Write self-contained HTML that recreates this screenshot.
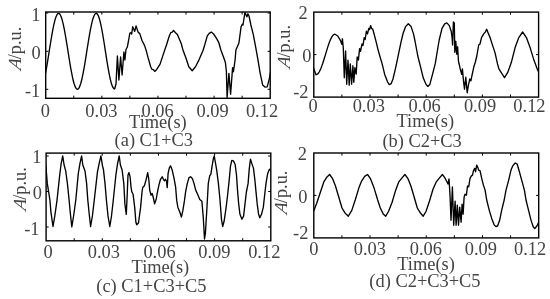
<!DOCTYPE html>
<html><head><meta charset="utf-8"><title>Waveforms</title>
<style>html,body{margin:0;padding:0;background:#fff;width:550px;height:299px;overflow:hidden}svg{display:block}</style>
</head><body>
<svg width="550" height="299" viewBox="0 0 550 299">
<defs><clipPath id="clipa"><rect x="45.7" y="12.0" width="224.50" height="86.30"/></clipPath><clipPath id="clipb"><rect x="313.8" y="12.1" width="224.80" height="85.00"/></clipPath><clipPath id="clipc"><rect x="46.1" y="153.1" width="224.70" height="87.70"/></clipPath><clipPath id="clipd"><rect x="313.8" y="153.0" width="224.90" height="84.90"/></clipPath></defs>
<rect width="550" height="299" fill="#fff"/>
<path d="M39.80,89.30 L40.62,88.95 L41.43,87.89 L42.25,86.15 L43.07,83.77 L43.89,80.78 L44.70,77.24 L45.52,73.21 L46.34,68.78 L47.16,64.03 L47.97,59.03 L48.79,53.89 L49.61,48.71 L50.43,43.57 L51.24,38.57 L52.06,33.82 L52.88,29.39 L53.70,25.36 L54.51,21.82 L55.33,18.83 L56.15,16.45 L56.97,14.71 L57.78,13.65 L58.60,13.30 L59.42,13.65 L60.23,14.71 L61.05,16.45 L61.87,18.83 L62.69,21.82 L63.50,25.36 L64.32,29.39 L65.14,33.82 L65.96,38.57 L66.77,43.57 L67.59,48.71 L68.41,53.89 L69.23,59.03 L70.04,64.03 L70.86,68.78 L71.68,73.21 L72.50,77.24 L73.31,80.78 L74.13,83.77 L74.95,86.15 L75.77,87.89 L76.58,88.95 L77.40,89.30 L78.22,88.95 L79.03,87.89 L79.85,86.15 L80.67,83.77 L81.49,80.78 L82.30,77.24 L83.12,73.21 L83.94,68.78 L84.76,64.03 L85.57,59.03 L86.39,53.89 L87.21,48.71 L88.03,43.57 L88.84,38.57 L89.66,33.82 L90.48,29.39 L91.30,25.36 L92.11,21.82 L92.93,18.83 L93.75,16.45 L94.57,14.71 L95.38,13.65 L96.20,13.30 L97.04,13.69 L97.87,14.83 L98.71,16.72 L99.55,19.31 L100.38,22.54 L101.22,26.36 L102.05,30.69 L102.89,35.43 L103.73,40.49 L104.56,45.76 L105.40,51.15 L106.24,56.54 L107.07,61.81 L107.91,66.87 L108.75,71.61 L109.58,75.94 L110.42,79.76 L111.25,82.99 L112.09,85.58 L112.93,87.47 L113.76,88.61 L114.60,89.00 L116.00,84.00 L117.40,56.00 L118.90,80.00 L120.60,57.00 L122.10,75.00 L123.90,52.00 L124.90,60.00 L126.00,49.50 L127.30,47.00 L128.50,41.00 L129.80,33.40 L130.70,32.70 L131.70,34.00 L132.70,26.70 L133.70,29.00 L134.70,31.40 L136.10,26.00 L137.20,29.40 L138.40,32.70 L139.70,33.40 L142.10,40.70 L144.50,45.40 L146.10,50.10 L148.00,57.40 L150.70,66.80 L152.00,69.40 L153.40,69.70 L154.70,71.40 L156.70,69.40 L160.10,64.10 L162.70,56.10 L165.40,48.00 L166.50,45.00 L169.10,36.50 L170.70,32.70 L172.30,32.10 L173.50,30.40 L175.50,32.70 L177.40,34.60 L179.30,39.10 L181.20,43.50 L182.80,49.40 L186.20,58.70 L188.80,66.80 L192.20,70.80 L195.50,66.80 L198.90,60.10 L202.90,50.70 L204.70,45.00 L207.30,35.90 L209.20,33.40 L211.30,32.10 L213.60,34.00 L216.20,37.80 L218.70,42.30 L220.90,50.00 L223.40,56.70 L225.40,62.50 L226.40,71.70 L226.70,83.40 L227.10,97.50 L227.90,86.80 L228.90,73.40 L229.70,83.40 L230.60,94.30 L231.40,83.40 L232.60,67.60 L233.40,71.70 L235.10,60.00 L235.90,50.00 L238.90,43.10 L241.10,26.60 L242.30,24.30 L243.00,25.00 L243.90,19.00 L244.90,12.50 L246.90,16.80 L247.90,13.80 L249.00,16.00 L250.90,25.00 L253.20,34.10 L255.50,46.10 L257.70,58.40 L260.20,73.40 L262.70,85.10 L264.90,87.10 L267.20,86.80 L269.40,78.40 L270.60,71.70 L272.00,65.00" clip-path="url(#clipa)" fill="none" stroke="#000" stroke-width="1.35" stroke-linejoin="round"/>
<path d="M73.76,98.3 v-2.6 M73.76,12.0 v2.6 M101.83,98.3 v-2.6 M101.83,12.0 v2.6 M129.89,98.3 v-2.6 M129.89,12.0 v2.6 M157.95,98.3 v-2.6 M157.95,12.0 v2.6 M186.01,98.3 v-2.6 M186.01,12.0 v2.6 M214.07,98.3 v-2.6 M214.07,12.0 v2.6 M242.14,98.3 v-2.6 M242.14,12.0 v2.6 M45.7,13.0 h2.6 M270.2,13.0 h-2.6 M45.7,51.3 h2.6 M270.2,51.3 h-2.6 M45.7,89.3 h2.6 M270.2,89.3 h-2.6" stroke="#000" stroke-width="1" fill="none"/>
<rect x="45.7" y="12.0" width="224.50" height="86.30" fill="none" stroke="#000" stroke-width="1.4"/>
<path d="M312.00,64.00 L316.00,74.70 L316.83,74.51 L317.65,73.95 L318.48,73.02 L319.30,71.75 L320.13,70.16 L320.96,68.27 L321.78,66.13 L322.61,63.77 L323.43,61.23 L324.26,58.57 L325.09,55.83 L325.91,53.07 L326.74,50.33 L327.57,47.67 L328.39,45.13 L329.22,42.77 L330.04,40.63 L330.87,38.74 L331.70,37.15 L332.52,35.88 L333.35,34.95 L334.17,34.39 L335.00,34.20 L337.80,36.00 L340.50,40.60 L341.80,44.30 L342.40,38.80 L343.30,48.00 L344.30,77.70 L345.60,51.00 L346.70,84.20 L348.00,60.20 L349.20,85.10 L350.30,63.90 L351.60,84.20 L352.90,65.80 L353.80,82.30 L354.90,67.60 L356.20,74.00 L357.20,56.90 L358.40,60.00 L359.60,48.60 L360.50,51.40 L362.00,44.00 L363.00,45.50 L364.20,37.60 L365.20,39.50 L366.40,31.20 L367.50,33.90 L368.80,28.40 L369.60,29.50 L370.60,25.60 L371.60,28.40 L372.80,29.30 L374.30,34.80 L376.20,42.20 L378.00,49.60 L379.80,56.00 L382.00,63.40 L384.70,74.40 L387.50,81.80 L389.30,84.60 L391.20,83.60 L393.00,79.00 L395.80,67.10 L398.50,54.20 L401.00,42.20 L403.20,33.00 L405.60,26.60 L408.30,23.80 L411.10,26.60 L413.50,33.90 L415.10,41.50 L417.80,56.00 L420.60,67.10 L423.30,78.10 L426.10,84.60 L427.90,86.40 L429.80,84.60 L432.50,74.40 L435.30,63.40 L437.00,53.00 L439.20,40.00 L442.00,28.40 L444.70,23.80 L446.90,22.90 L449.30,25.60 L451.20,31.20 L452.10,37.60 L452.60,45.00 L453.40,22.00 L454.30,23.00 L454.80,52.30 L455.80,41.30 L456.70,54.10 L457.60,46.80 L458.50,61.50 L459.40,65.00 L460.20,68.90 L461.70,74.40 L462.40,68.90 L463.50,80.90 L464.50,89.20 L465.80,77.20 L467.20,92.80 L468.50,84.60 L469.80,79.00 L470.90,80.90 L472.20,74.40 L474.00,66.20 L475.10,63.00 L476.80,56.00 L478.70,45.00 L480.00,44.00 L481.50,37.60 L483.70,33.90 L485.20,32.10 L486.70,29.30 L488.50,33.90 L489.80,36.70 L492.50,45.10 L495.00,52.60 L497.50,63.90 L498.90,68.90 L501.30,72.70 L504.50,77.70 L507.60,72.70 L511.30,62.60 L515.10,47.60 L518.80,37.60 L522.60,32.00 L526.40,37.60 L530.10,47.60 L533.90,60.10 L537.70,70.20 L538.60,71.50 L540.00,73.00" clip-path="url(#clipb)" fill="none" stroke="#000" stroke-width="1.35" stroke-linejoin="round"/>
<path d="M341.90,97.1 v-2.6 M341.90,12.1 v2.6 M370.00,97.1 v-2.6 M370.00,12.1 v2.6 M398.10,97.1 v-2.6 M398.10,12.1 v2.6 M426.20,97.1 v-2.6 M426.20,12.1 v2.6 M454.30,97.1 v-2.6 M454.30,12.1 v2.6 M482.40,97.1 v-2.6 M482.40,12.1 v2.6 M510.50,97.1 v-2.6 M510.50,12.1 v2.6 M313.8,54.6 h2.6 M538.6,54.6 h-2.6" stroke="#000" stroke-width="1" fill="none"/>
<rect x="313.8" y="12.1" width="224.80" height="85.00" fill="none" stroke="#000" stroke-width="1.4"/>
<path d="M44.00,160.00 L45.90,166.00 L47.30,183.40 L49.90,200.00 L51.00,212.60 L53.00,226.50 L54.80,216.00 L57.00,200.40 L59.90,173.40 L61.20,163.40 L62.70,155.90 L64.10,165.00 L65.70,170.90 L67.40,183.40 L69.10,200.00 L70.20,212.00 L71.80,226.90 L73.60,216.00 L75.80,200.00 L78.30,173.40 L80.00,163.40 L81.60,155.90 L82.80,165.00 L85.00,170.90 L86.60,183.40 L87.80,200.00 L89.00,212.00 L90.60,226.50 L92.40,216.00 L94.50,198.00 L97.50,171.70 L99.20,163.40 L100.90,155.90 L102.50,165.90 L103.40,169.20 L105.00,183.40 L106.40,200.00 L108.00,216.00 L109.80,226.50 L111.50,216.00 L113.30,200.00 L115.90,175.00 L117.60,163.40 L119.20,155.90 L120.40,165.00 L122.10,170.00 L123.80,183.40 L124.90,203.90 L126.30,214.30 L127.20,195.00 L128.00,175.00 L129.00,172.60 L130.10,176.80 L131.00,186.80 L131.80,191.80 L133.10,194.30 L134.70,207.40 L135.90,222.20 L136.70,224.80 L138.50,223.00 L140.60,207.40 L142.00,192.00 L142.70,187.60 L144.30,186.00 L146.00,180.10 L147.70,172.60 L148.80,179.30 L149.70,190.10 L151.00,195.20 L152.20,193.50 L153.40,198.00 L154.60,203.90 L156.30,198.70 L157.20,193.50 L158.90,185.10 L160.50,179.30 L162.20,176.80 L163.40,179.30 L164.40,180.90 L165.40,179.30 L166.50,181.00 L167.20,187.60 L168.10,173.40 L169.40,167.60 L170.60,165.90 L172.20,170.10 L173.90,177.60 L175.60,186.80 L176.70,200.40 L177.90,207.40 L179.70,211.70 L181.40,217.00 L182.80,210.90 L184.50,200.40 L185.60,191.80 L187.30,183.40 L189.00,177.60 L190.60,176.80 L192.30,178.40 L194.00,183.40 L195.70,190.10 L197.60,194.30 L199.80,199.60 L201.90,201.30 L203.30,217.80 L204.50,239.00 L205.40,233.50 L206.80,210.00 L208.30,183.40 L209.70,175.90 L210.90,174.20 L212.00,166.70 L213.40,158.40 L214.20,155.90 L215.40,162.50 L216.70,170.10 L218.40,183.40 L220.00,200.00 L221.50,219.60 L222.70,226.50 L224.10,221.30 L225.90,209.10 L227.60,195.00 L229.20,180.10 L230.40,166.70 L231.80,160.40 L233.40,160.90 L235.10,164.20 L236.50,175.00 L237.50,190.00 L238.60,203.00 L239.90,214.00 L241.90,219.20 L243.60,216.10 L245.00,203.90 L246.40,192.00 L248.10,183.40 L249.30,168.40 L250.50,159.20 L251.80,163.40 L253.50,168.40 L254.80,179.30 L256.00,191.80 L257.20,203.90 L258.60,214.30 L259.80,217.80 L261.50,214.30 L263.30,207.40 L265.00,192.00 L266.00,183.40 L267.70,173.40 L269.40,169.20 L270.60,170.00 L272.00,172.00" clip-path="url(#clipc)" fill="none" stroke="#000" stroke-width="1.35" stroke-linejoin="round"/>
<path d="M74.19,240.8 v-2.6 M74.19,153.1 v2.6 M102.28,240.8 v-2.6 M102.28,153.1 v2.6 M130.36,240.8 v-2.6 M130.36,153.1 v2.6 M158.45,240.8 v-2.6 M158.45,153.1 v2.6 M186.54,240.8 v-2.6 M186.54,153.1 v2.6 M214.62,240.8 v-2.6 M214.62,153.1 v2.6 M242.71,240.8 v-2.6 M242.71,153.1 v2.6 M46.1,156.0 h2.6 M270.8,156.0 h-2.6 M46.1,191.5 h2.6 M270.8,191.5 h-2.6 M46.1,227.0 h2.6 M270.8,227.0 h-2.6" stroke="#000" stroke-width="1" fill="none"/>
<rect x="46.1" y="153.1" width="224.70" height="87.70" fill="none" stroke="#000" stroke-width="1.4"/>
<path d="M312.00,214.00 L313.90,210.40 L316.70,203.30 L320.20,192.80 L323.70,182.20 L326.50,177.60 L329.60,174.50 L332.60,178.70 L335.40,185.80 L338.90,197.50 L342.00,208.00 L344.80,212.70 L348.30,216.20 L351.80,210.40 L355.30,199.80 L358.80,188.10 L361.60,181.10 L364.70,176.40 L367.50,174.50 L370.50,178.70 L374.10,188.10 L377.60,199.80 L380.30,208.00 L383.20,213.90 L385.70,216.20 L388.50,211.50 L392.10,202.20 L395.60,190.40 L398.60,182.20 L401.40,178.70 L404.90,174.50 L408.00,178.70 L410.80,185.80 L414.30,197.50 L417.30,208.00 L420.20,212.70 L423.20,216.20 L426.00,211.50 L429.50,201.00 L433.00,189.30 L436.10,182.20 L438.90,178.70 L442.40,174.50 L444.70,177.60 L446.00,180.00 L448.00,184.00 L449.00,179.00 L450.00,195.00 L451.00,220.20 L452.40,187.00 L453.70,225.20 L455.10,201.10 L456.10,225.20 L457.30,205.10 L458.50,225.20 L459.70,207.10 L461.10,222.20 L462.10,204.10 L463.10,214.20 L464.10,197.10 L465.00,194.30 L466.40,195.20 L467.50,186.00 L468.70,186.80 L470.00,178.40 L471.40,175.90 L472.50,175.10 L473.40,170.90 L474.70,168.40 L475.60,171.70 L476.70,165.10 L477.90,167.60 L478.70,170.10 L480.10,170.90 L481.70,178.40 L483.40,185.10 L485.10,190.10 L486.70,200.00 L489.20,210.10 L491.70,218.40 L494.20,225.10 L495.90,226.50 L497.60,226.00 L499.70,220.10 L501.70,210.10 L504.20,200.00 L506.00,190.10 L508.50,180.90 L511.00,170.10 L512.70,165.90 L515.20,163.00 L517.20,164.20 L519.40,171.70 L521.90,180.90 L524.40,190.10 L526.00,200.00 L528.50,210.10 L531.00,220.10 L533.20,226.80 L534.80,228.50 L536.90,226.00 L538.90,221.80 L540.00,219.00" clip-path="url(#clipd)" fill="none" stroke="#000" stroke-width="1.35" stroke-linejoin="round"/>
<path d="M341.91,237.9 v-2.6 M341.91,153.0 v2.6 M370.03,237.9 v-2.6 M370.03,153.0 v2.6 M398.14,237.9 v-2.6 M398.14,153.0 v2.6 M426.25,237.9 v-2.6 M426.25,153.0 v2.6 M454.36,237.9 v-2.6 M454.36,153.0 v2.6 M482.48,237.9 v-2.6 M482.48,153.0 v2.6 M510.59,237.9 v-2.6 M510.59,153.0 v2.6 M313.8,195.4 h2.6 M538.7,195.4 h-2.6" stroke="#000" stroke-width="1" fill="none"/>
<rect x="313.8" y="153.0" width="224.90" height="84.90" fill="none" stroke="#000" stroke-width="1.4"/>
<g font-family="'Liberation Serif', 'Times New Roman', serif" font-size="18.4" fill="#444">
<text transform="translate(35.75,20.76) scale(1.0,1)" text-anchor="middle">1</text>
<text transform="translate(36.10,58.56) scale(1.0,1)" text-anchor="middle">0</text>
<text transform="translate(32.55,96.86) scale(1.0,1)" text-anchor="middle">-1</text>
<text transform="translate(45.45,116.61) scale(1.0,1)" text-anchor="middle">0</text>
<text transform="translate(101.45,116.61) scale(1.0,1)" text-anchor="middle">0.03</text>
<text transform="translate(157.60,116.61) scale(1.0,1)" text-anchor="middle">0.06</text>
<text transform="translate(212.55,116.61) scale(1.0,1)" text-anchor="middle">0.09</text>
<text transform="translate(262.00,116.61) scale(1.0,1)" text-anchor="middle">0.12</text>
<text transform="translate(157.90,128.30) scale(1.0,1)" text-anchor="middle">Time(s)</text>
<text transform="translate(153.75,146.10) scale(1.0,1)" text-anchor="middle">(a) C1+C3</text>
<text transform="translate(303.00,19.41) scale(1.0,1)" text-anchor="middle">2</text>
<text transform="translate(306.75,61.71) scale(1.0,1)" text-anchor="middle">0</text>
<text transform="translate(300.80,98.46) scale(1.0,1)" text-anchor="middle">-2</text>
<text transform="translate(313.10,112.11) scale(1.0,1)" text-anchor="middle">0</text>
<text transform="translate(368.75,112.11) scale(1.0,1)" text-anchor="middle">0.03</text>
<text transform="translate(424.70,112.11) scale(1.0,1)" text-anchor="middle">0.06</text>
<text transform="translate(480.00,112.11) scale(1.0,1)" text-anchor="middle">0.09</text>
<text transform="translate(529.45,112.11) scale(1.0,1)" text-anchor="middle">0.12</text>
<text transform="translate(425.25,127.30) scale(1.0,1)" text-anchor="middle">Time(s)</text>
<text transform="translate(422.10,146.50) scale(1.0,1)" text-anchor="middle">(b) C2+C3</text>
<text transform="translate(36.90,162.76) scale(1.0,1)" text-anchor="middle">1</text>
<text transform="translate(37.35,198.76) scale(1.0,1)" text-anchor="middle">0</text>
<text transform="translate(31.90,234.96) scale(1.0,1)" text-anchor="middle">-1</text>
<text transform="translate(48.00,257.71) scale(1.0,1)" text-anchor="middle">0</text>
<text transform="translate(103.80,257.71) scale(1.0,1)" text-anchor="middle">0.03</text>
<text transform="translate(159.50,257.71) scale(1.0,1)" text-anchor="middle">0.06</text>
<text transform="translate(214.35,257.71) scale(1.0,1)" text-anchor="middle">0.09</text>
<text transform="translate(264.25,257.71) scale(1.0,1)" text-anchor="middle">0.12</text>
<text transform="translate(160.40,272.60) scale(1.0,1)" text-anchor="middle">Time(s)</text>
<text transform="translate(151.40,291.90) scale(1.0,1)" text-anchor="middle">(c) C1+C3+C5</text>
<text transform="translate(302.35,160.01) scale(1.0,1)" text-anchor="middle">2</text>
<text transform="translate(302.75,202.51) scale(1.0,1)" text-anchor="middle">0</text>
<text transform="translate(300.70,239.21) scale(1.0,1)" text-anchor="middle">-2</text>
<text transform="translate(313.90,255.11) scale(1.0,1)" text-anchor="middle">0</text>
<text transform="translate(369.90,255.11) scale(1.0,1)" text-anchor="middle">0.03</text>
<text transform="translate(425.85,255.11) scale(1.0,1)" text-anchor="middle">0.06</text>
<text transform="translate(480.80,255.11) scale(1.0,1)" text-anchor="middle">0.09</text>
<text transform="translate(530.10,255.11) scale(1.0,1)" text-anchor="middle">0.12</text>
<text transform="translate(426.05,269.90) scale(1.0,1)" text-anchor="middle">Time(s)</text>
<text transform="translate(424.95,287.00) scale(1.0,1)" text-anchor="middle">(d) C2+C3+C5</text>
<g transform="translate(20.7,48.6) rotate(-90)" font-size="18.4"><text transform="translate(-21.98,0) skewX(-14)" font-style="italic">A</text><text x="-10.74">/p.u.</text></g>
<g transform="translate(290,46.8) rotate(-90)" font-size="18.4"><text transform="translate(-21.98,0) skewX(-14)" font-style="italic">A</text><text x="-10.74">/p.u.</text></g>
<g transform="translate(25.8,189.1) rotate(-90)" font-size="18.4"><text transform="translate(-21.98,0) skewX(-14)" font-style="italic">A</text><text x="-10.74">/p.u.</text></g>
<g transform="translate(287.3,192.5) rotate(-90)" font-size="18.4"><text transform="translate(-21.98,0) skewX(-14)" font-style="italic">A</text><text x="-10.74">/p.u.</text></g>
</g>
</svg>
</body></html>
